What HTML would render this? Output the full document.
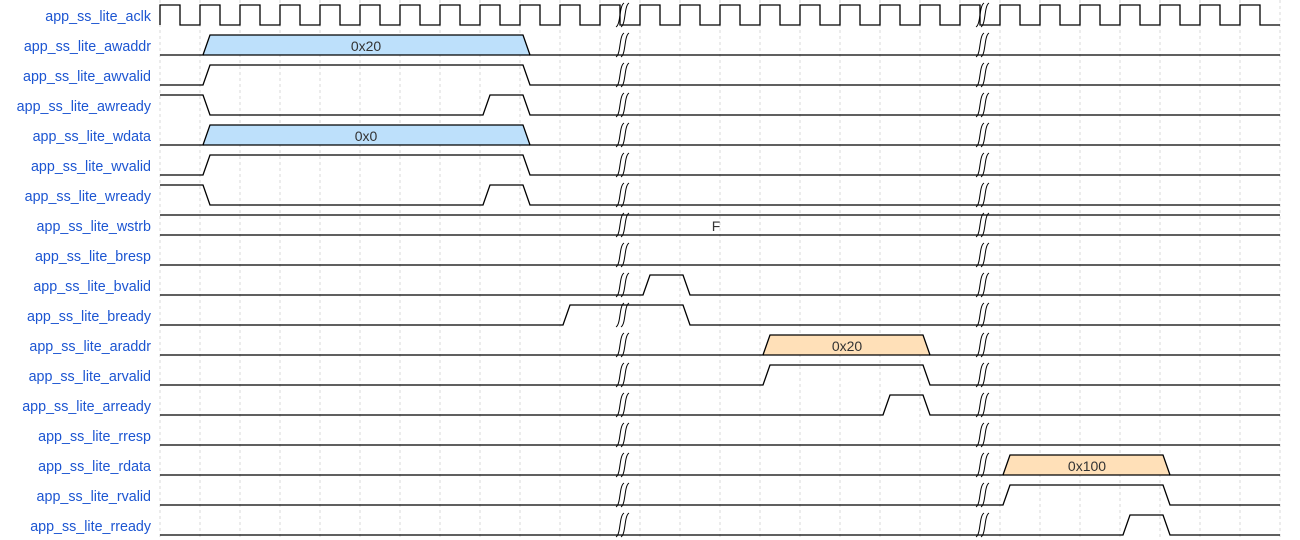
<!DOCTYPE html>
<html><head><meta charset="utf-8"><style>
html,body{margin:0;padding:0;background:#fff;}
svg{display:block;}
.l{font-family:"Liberation Sans",Arial,sans-serif;font-size:14.3px;fill:#1c55d2;text-anchor:end;}
.v{font-family:"Liberation Sans",Arial,sans-serif;font-size:14px;fill:#333;text-anchor:middle;}
</style></head><body>
<svg id="s" width="1300" height="540" viewBox="0 0 1300 540" xmlns="http://www.w3.org/2000/svg">
<g id="grid" stroke="#d8d8d8" stroke-width="1" stroke-dasharray="3,3"></g>
<g id="fills"></g>
<g id="waves" fill="none" stroke="#000" stroke-width="1.3"></g>
<g id="brk" fill="none" stroke="#000" stroke-width="1"></g>
<g>
<text class="l" x="151" y="21">app_ss_lite_aclk</text>
<text class="l" x="151" y="51">app_ss_lite_awaddr</text>
<text class="l" x="151" y="81">app_ss_lite_awvalid</text>
<text class="l" x="151" y="111">app_ss_lite_awready</text>
<text class="l" x="151" y="141">app_ss_lite_wdata</text>
<text class="l" x="151" y="171">app_ss_lite_wvalid</text>
<text class="l" x="151" y="201">app_ss_lite_wready</text>
<text class="l" x="151" y="231">app_ss_lite_wstrb</text>
<text class="l" x="151" y="261">app_ss_lite_bresp</text>
<text class="l" x="151" y="291">app_ss_lite_bvalid</text>
<text class="l" x="151" y="321">app_ss_lite_bready</text>
<text class="l" x="151" y="351">app_ss_lite_araddr</text>
<text class="l" x="151" y="381">app_ss_lite_arvalid</text>
<text class="l" x="151" y="411">app_ss_lite_arready</text>
<text class="l" x="151" y="441">app_ss_lite_rresp</text>
<text class="l" x="151" y="471">app_ss_lite_rdata</text>
<text class="l" x="151" y="501">app_ss_lite_rvalid</text>
<text class="l" x="151" y="531">app_ss_lite_rready</text>
</g>
<g>
<text class="v" x="366" y="51">0x20</text>
<text class="v" x="366" y="141">0x0</text>
<text class="v" x="716" y="231">F</text>
<text class="v" x="847" y="351">0x20</text>
<text class="v" x="1087" y="471">0x100</text>
</g>
</svg>
<script>
var NS="http://www.w3.org/2000/svg";
function el(p,t,a){var e=document.createElementNS(NS,t);for(var k in a)e.setAttribute(k,a[k]);document.getElementById(p).appendChild(e);}
for(var x=160;x<=1280;x+=40)el("grid","line",{x1:x,y1:0,x2:x,y2:540});
function H(i){return 5+30*i;} function L(i){return 25+30*i;}
var d="M160,25";for(var x=160;x<1280;x+=40){d+=" L"+x+",5 H"+(x+20)+" V25 H"+Math.min(x+40,1280);}
el("waves","path",{d:d});
function pulse(i,a,b){var h=H(i),l=L(i);el("waves","path",{d:"M160,"+l+" H"+a+" L"+(a+7)+","+h+" H"+b+" L"+(b+7)+","+l+" H1280"});}
function ready(i,a,b,c){var h=H(i),l=L(i);el("waves","path",{d:"M160,"+h+" H"+a+" L"+(a+7)+","+l+" H"+b+" L"+(b+7)+","+h+" H"+c+" L"+(c+7)+","+l+" H1280"});}
function bus(i,a,b,col){var h=H(i),l=L(i);
 el("fills","polygon",{points:a+","+l+" "+(a+7)+","+h+" "+b+","+h+" "+(b+7)+","+l,fill:col});
 el("waves","path",{d:"M160,"+l+" H"+a+" L"+(a+7)+","+h+" H"+b+" L"+(b+7)+","+l+" H1280"});
 el("waves","path",{d:"M"+a+","+l+" H"+(b+7)});}
function low(i){el("waves","path",{d:"M160,"+L(i)+" H1280"});}
bus(1,203,523,"#bde0fb");pulse(2,203,523);ready(3,203,483,523);
bus(4,203,523,"#bde0fb");pulse(5,203,523);ready(6,203,483,523);
el("waves","path",{d:"M160,215 H1280 M160,235 H1280"});
low(8);pulse(9,643,683);pulse(10,563,683);
bus(11,763,923,"#ffe0b8");pulse(12,763,923);pulse(13,883,923);
low(14);bus(15,1003,1163,"#ffe0b8");pulse(16,1003,1163);pulse(17,1123,1163);
[616,976].forEach(function(bx){for(var i=0;i<18;i++){var h=H(i)-2,l=L(i)+2;
 for(var o=0;o<2;o++){var x0=bx+o*5;
  el("brk","path",{d:"M"+x0+","+l+" C"+(x0+5)+","+(l-3)+" "+(x0+3)+","+(h+3)+" "+(x0+8)+","+h});}}});
</script>
</body></html>
